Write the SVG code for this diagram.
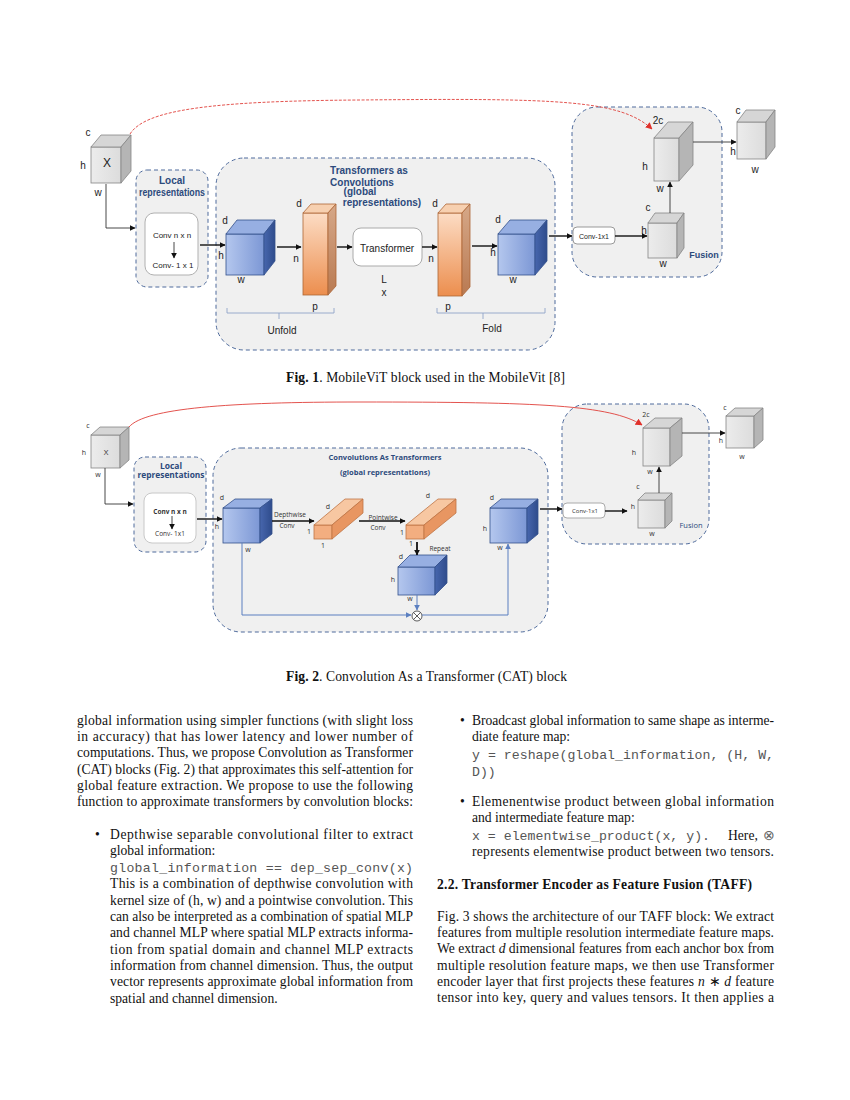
<svg xmlns="http://www.w3.org/2000/svg" width="850" height="1100" viewBox="0 0 850 1100">
<defs>
<linearGradient id="bF" x1="0" y1="0" x2="1" y2="0"><stop offset="0" stop-color="#b4c7ee"/><stop offset="1" stop-color="#7c97d5"/></linearGradient>
<linearGradient id="bR" x1="0" y1="0" x2="1" y2="0"><stop offset="0" stop-color="#4766ad"/><stop offset="1" stop-color="#2f4c8c"/></linearGradient>
<linearGradient id="oF" x1="0" y1="0" x2="0" y2="1"><stop offset="0" stop-color="#fcdcc4"/><stop offset="1" stop-color="#ec8e4e"/></linearGradient>
<linearGradient id="oR" x1="0" y1="0" x2="0" y2="1"><stop offset="0" stop-color="#d6a888"/><stop offset="1" stop-color="#b97a52"/></linearGradient>
<linearGradient id="gF" x1="0" y1="0" x2="1" y2="0"><stop offset="0" stop-color="#ececec"/><stop offset="1" stop-color="#dcdcdc"/></linearGradient>
<marker id="ak" viewBox="0 0 10 10" refX="9" refY="5" markerWidth="6" markerHeight="6" orient="auto" markerUnits="userSpaceOnUse"><path d="M0,0 L10,5 L0,10 z" fill="#111"/></marker>
<marker id="ab" viewBox="0 0 10 10" refX="9" refY="5" markerWidth="6" markerHeight="6" orient="auto" markerUnits="userSpaceOnUse"><path d="M0,0 L10,5 L0,10 z" fill="#5b7fc0"/></marker>
<marker id="ar" viewBox="0 0 10 10" refX="9" refY="5" markerWidth="7" markerHeight="7" orient="auto" markerUnits="userSpaceOnUse"><path d="M0,0 L10,5 L0,10 z" fill="#e0302a"/></marker>
<style>
.grp{fill:#f0f0f0;stroke:#4f6b9c;stroke-width:1;stroke-dasharray:4 3}
.inner{fill:#fff;stroke:#b0b0b0;stroke-width:1}
.bf{fill:url(#bF);stroke:#33508c;stroke-width:0.8}
.bt{fill:#97afe2;stroke:#33508c;stroke-width:0.8}
.br{fill:url(#bR);stroke:#33508c;stroke-width:0.8}
.of{fill:url(#oF);stroke:#ad6636;stroke-width:0.8}
.ot{fill:#f7d0b0;stroke:#ad6636;stroke-width:0.8}
.or{fill:url(#oR);stroke:#ad6636;stroke-width:0.8}
.of2{fill:#f3ae80;stroke:#bf7545;stroke-width:0.8}
.ot2{fill:#f7c7a2;stroke:#bf7545;stroke-width:0.8}
.or2{fill:#e89662;stroke:#bf7545;stroke-width:0.8}
.gf{fill:url(#gF);stroke:#858585;stroke-width:0.8}
.gt{fill:#d6d6d6;stroke:#858585;stroke-width:0.8}
.gr{fill:#b5b5b5;stroke:#858585;stroke-width:0.8}
.l1{font-family:"Liberation Sans",Arial,sans-serif;font-size:10px;fill:#222;text-anchor:middle;dominant-baseline:central}
.l2{font-family:"Open Sans","Liberation Sans",sans-serif;font-size:7px;fill:#333;text-anchor:middle;dominant-baseline:central}
.t1{font-family:"Liberation Sans",Arial,sans-serif;font-size:10px;font-weight:bold;fill:#2c4a7c;text-anchor:middle;dominant-baseline:central}
.t2{font-family:"Open Sans","Liberation Sans",sans-serif;font-size:7.5px;font-weight:bold;fill:#2c4a7c;text-anchor:middle;dominant-baseline:central}
.ln{fill:none;stroke:#111;stroke-width:1.4}
.lt{fill:none;stroke:#333;stroke-width:0.9}
.lb{fill:none;stroke:#5b7fc0;stroke-width:1}
.red{fill:none;stroke:#e0403a;stroke-width:0.9}
.brk{fill:none;stroke:#8ea3c7;stroke-width:0.9}
.tx{font-family:"Liberation Serif","Times New Roman",serif;font-size:13.6px;fill:#111}
.mono{font-family:"Liberation Mono","Courier New",monospace;font-size:13.2px;fill:#555}
.b{font-weight:bold}
</style>
</defs>
<rect width="850" height="1100" fill="#fff"/>

<!-- ================= FIGURE 1 ================= -->
<g id="f1-transformers-group">
<rect class="grp" x="216" y="158" width="339" height="192" rx="28"/>
<text class="t1" x="369" y="170">Transformers as</text>
<text class="t1" x="362" y="182">Convolutions</text>
<text class="t1" x="360" y="191">(global</text>
<text class="t1" x="382" y="202">representations)</text>
</g>
<g id="f1-local">
<rect class="grp" x="136" y="170" width="72" height="117" rx="11"/>
<text class="t1" x="172" y="180">Local</text>
<text class="t1" x="172" y="192" textLength="66" lengthAdjust="spacingAndGlyphs">representations</text>
<rect class="inner" x="145" y="213" width="53" height="62" rx="9"/>
<text class="l1" x="172" y="235" style="font-size:8px">Conv n x n</text>
<text class="l1" x="173" y="265" style="font-size:8px">Conv- 1 x 1</text>
</g>
<g id="f1-fusion">
<rect class="grp" x="572" y="107" width="150" height="170" rx="25"/>
<text class="t1" x="704" y="255" style="font-size:9px">Fusion</text>
</g>
<g id="f1-x">
<rect class="gf" x="91" y="147" width="30" height="36"/>
<polygon class="gt" points="91,147 101,135 131,135 121,147"/>
<polygon class="gr" points="121,147 131,135 131,171 121,183"/>
<text class="l1" x="107" y="163" style="font-size:12px">X</text>
<text class="l1" x="88" y="132">c</text>
<text class="l1" x="83" y="165">h</text>
<text class="l1" x="98" y="192">w</text>
</g>
<g id="f1-cube1">
<rect class="bf" x="226" y="234" width="38" height="41"/>
<polygon class="bt" points="226,234 237,220 275,220 264,234"/>
<polygon class="br" points="264,234 275,220 275,261 264,275"/>
<text class="l1" x="225" y="220">d</text>
<text class="l1" x="221" y="255">h</text>
<text class="l1" x="241" y="279">w</text>
</g>
<g id="f1-bar1">
<rect class="of" x="303" y="213" width="25" height="82"/>
<polygon class="ot" points="303,213 311,204 336,204 328,213"/>
<polygon class="or" points="328,213 336,204 336,286 328,295"/>
<text class="l1" x="299" y="203">d</text>
<text class="l1" x="296" y="258">n</text>
<text class="l1" x="315" y="306">p</text>
</g>
<g id="f1-transformer">
<rect class="inner" x="353" y="228" width="69" height="38" rx="8" style="stroke:#aaa"/>
<text class="l1" x="387" y="248">Transformer</text>
<text class="l1" x="384" y="279">L</text>
<text class="l1" x="384" y="292">x</text>
</g>
<g id="f1-bar2">
<rect class="of" x="438" y="213" width="24" height="83"/>
<polygon class="ot" points="438,213 446,204 470,204 462,213"/>
<polygon class="or" points="462,213 470,204 470,287 462,296"/>
<text class="l1" x="435" y="203">d</text>
<text class="l1" x="431" y="258">n</text>
<text class="l1" x="448" y="306">p</text>
</g>
<g id="f1-cube2">
<rect class="bf" x="498" y="234" width="37" height="41"/>
<polygon class="bt" points="498,234 510,220 547,220 535,234"/>
<polygon class="br" points="535,234 547,220 547,261 535,275"/>
<text class="l1" x="498" y="219">d</text>
<text class="l1" x="493" y="252">h</text>
<text class="l1" x="513" y="279">w</text>
</g>
<g id="f1-unfold">
<path class="brk" d="M227,308 V313 H334 V308 M279,313 V319"/>
<text class="l1" x="282" y="330">Unfold</text>
</g>
<g id="f1-fold">
<path class="brk" d="M437,308 V313 H545 V308 M483,313 V319"/>
<text class="l1" x="492" y="328">Fold</text>
</g>
<g id="f1-conv">
<rect class="inner" x="573" y="227" width="42" height="17" rx="4" style="stroke:#999"/>
<text class="l1" x="594" y="236" style="font-size:7px">Conv-1x1</text>
</g>
<g id="f1-ccube">
<rect class="gf" x="648" y="223" width="29" height="35"/>
<polygon class="gt" points="648,223 655,213 684,213 677,223"/>
<polygon class="gr" points="677,223 684,213 684,248 677,258"/>
<text class="l1" x="648" y="207">c</text>
<text class="l1" x="644" y="230">h</text>
<text class="l1" x="663" y="263">w</text>
</g>
<g id="f1-2ccube">
<rect class="gf" x="654" y="138" width="25" height="43"/>
<polygon class="gt" points="654,138 668,122 693,122 679,138"/>
<polygon class="gr" points="679,138 693,122 693,165 679,181"/>
<text class="l1" x="658" y="120">2c</text>
<text class="l1" x="645" y="166">h</text>
<text class="l1" x="660" y="188">w</text>
</g>
<g id="f1-out">
<rect class="gf" x="737" y="122" width="29" height="37"/>
<polygon class="gt" points="737,122 746,110 775,110 766,122"/>
<polygon class="gr" points="766,122 775,110 775,147 766,159"/>
<text class="l1" x="738" y="110">c</text>
<text class="l1" x="733" y="151">h</text>
<text class="l1" x="755" y="169">w</text>
</g>
<g id="f1-connectors">
<path class="red" style="stroke-dasharray:3 1.5" d="M130,134 C145,110 210,101 360,100 C560,98 620,100 652,129" marker-end="url(#ar)"/>
<path class="lt" d="M106,184 V228 H135" marker-end="url(#ak)"/>
<path class="ln" d="M200,245 H225" marker-end="url(#ak)"/>
<path class="ln" d="M277,247 H301" marker-end="url(#ak)"/>
<path class="ln" d="M337,247 H352" marker-end="url(#ak)"/>
<path class="ln" d="M422,247 H437" marker-end="url(#ak)"/>
<path class="ln" d="M472,246 H497" marker-end="url(#ak)"/>
<path class="ln" d="M549,236 H572" marker-end="url(#ak)"/>
<path class="ln" d="M615,236 H647" marker-end="url(#ak)"/>
<path class="lt" d="M174,242 V258" marker-end="url(#ak)"/>
<path class="lt" d="M670,213 V182" marker-end="url(#ak)"/>
<path class="lt" d="M693,142 H736" marker-end="url(#ak)"/>
</g>
<text class="tx" x="286" y="382" textLength="279" lengthAdjust="spacing"><tspan class="b">Fig. 1</tspan>. MobileViT block used in the MobileVit [8]</text>

<!-- ================= FIGURE 2 ================= -->
<g id="f2-cat-group">
<rect class="grp" x="213" y="448" width="335" height="184" rx="28"/>
<text class="t2" x="385" y="457">Convolutions As Transformers</text>
<text class="t2" x="385" y="472">(global representations)</text>
</g>
<g id="f2-local">
<rect class="grp" x="134" y="457" width="72" height="95" rx="11"/>
<text class="t2" x="171" y="465" style="font-size:8.5px">Local</text>
<text class="t2" x="171" y="474" style="font-size:8.5px" textLength="67" lengthAdjust="spacingAndGlyphs">representations</text>
<rect class="inner" x="144" y="493" width="52" height="50" rx="8" style="stroke:#c8c8c8"/>
<text class="l2" x="170" y="511" style="font-size:6.5px;font-weight:bold">Conv n x n</text>
<text class="l2" x="170" y="533" style="font-size:6.5px">Conv- 1x1</text>
</g>
<g id="f2-fusion">
<rect class="grp" x="562" y="404" width="147" height="140" rx="25"/>
<text class="t2" x="691" y="525" style="font-weight:normal">Fusion</text>
</g>
<g id="f2-x">
<rect class="gf" x="91" y="435" width="29" height="33"/>
<polygon class="gt" points="91,435 100,427 129,427 120,435"/>
<polygon class="gr" points="120,435 129,427 129,460 120,468"/>
<text class="l2" x="106" y="451" style="font-size:8px">X</text>
<text class="l2" x="88" y="425">c</text>
<text class="l2" x="84" y="452">h</text>
<text class="l2" x="98" y="474">w</text>
</g>
<g id="f2-cubeA">
<rect class="bf" x="223" y="508" width="37" height="35"/>
<polygon class="bt" points="223,508 235,499 272,499 260,508"/>
<polygon class="br" points="260,508 272,499 272,534 260,543"/>
<text class="l2" x="222" y="497">d</text>
<text class="l2" x="217" y="526">h</text>
<text class="l2" x="248" y="549">w</text>
</g>
<g id="f2-bar1">
<rect class="of2" x="314" y="525" width="18" height="14"/>
<polygon class="ot2" points="314,525 345,499 363,499 332,525"/>
<polygon class="or2" points="332,525 363,499 363,513 332,539"/>
<text class="l2" x="328" y="506">d</text>
<text class="l2" x="309" y="531">1</text>
<text class="l2" x="323" y="545">1</text>
</g>
<g id="f2-bar2">
<rect class="of2" x="406" y="525" width="18" height="14"/>
<polygon class="ot2" points="406,525 438,499 456,499 424,525"/>
<polygon class="or2" points="424,525 456,499 456,513 424,539"/>
<text class="l2" x="428" y="495">d</text>
<text class="l2" x="402" y="532">1</text>
<text class="l2" x="411" y="543">1</text>
</g>
<g id="f2-cubeB">
<rect class="bf" x="398" y="567" width="37" height="28"/>
<polygon class="bt" points="398,567 410,555 447,555 435,567"/>
<polygon class="br" points="435,567 447,555 447,583 435,595"/>
<text class="l2" x="401" y="556">d</text>
<text class="l2" x="393" y="579">h</text>
<text class="l2" x="410" y="598">w</text>
</g>
<g id="f2-product">
<circle cx="417" cy="616" r="5" fill="#fff" stroke="#333" stroke-width="0.8"/>
<path d="M413.5,612.5 L420.5,619.5 M420.5,612.5 L413.5,619.5" stroke="#333" stroke-width="0.8"/>
</g>
<g id="f2-cubeC">
<rect class="bf" x="490" y="508" width="37" height="35"/>
<polygon class="bt" points="490,508 501,499 538,499 527,508"/>
<polygon class="br" points="527,508 538,499 538,534 527,543"/>
<text class="l2" x="492" y="497">d</text>
<text class="l2" x="485" y="528">h</text>
<text class="l2" x="500" y="547">w</text>
</g>
<g id="f2-conv">
<rect class="inner" x="563" y="503" width="42" height="15" rx="4" style="stroke:#aaa"/>
<text class="l2" x="585" y="511" style="font-size:6px">Conv-1x1</text>
</g>
<g id="f2-ccube">
<rect class="gf" x="638" y="500" width="27" height="28"/>
<polygon class="gt" points="638,500 645,493 672,493 665,500"/>
<polygon class="gr" points="665,500 672,493 672,521 665,528"/>
<text class="l2" x="638" y="486">c</text>
<text class="l2" x="633" y="506">h</text>
<text class="l2" x="652" y="533">w</text>
</g>
<g id="f2-2ccube">
<rect class="gf" x="643" y="428" width="27" height="38"/>
<polygon class="gt" points="643,428 655,418 682,418 670,428"/>
<polygon class="gr" points="670,428 682,418 682,456 670,466"/>
<text class="l2" x="646" y="414">2c</text>
<text class="l2" x="634" y="452">h</text>
<text class="l2" x="650" y="471">w</text>
</g>
<g id="f2-out">
<rect class="gf" x="726" y="416" width="28" height="32"/>
<polygon class="gt" points="726,416 735,408 763,408 754,416"/>
<polygon class="gr" points="754,416 763,408 763,440 754,448"/>
<text class="l2" x="725" y="407">c</text>
<text class="l2" x="721" y="440">h</text>
<text class="l2" x="742" y="456">w</text>
</g>
<g id="f2-connectors">
<path class="red" d="M129,427 C145,408 230,402 360,402 C540,402 610,405 642,425" marker-end="url(#ar)"/>
<path class="lt" d="M105,468 V504 H133" marker-end="url(#ak)"/>
<path class="ln" d="M197,519 H222" marker-end="url(#ak)"/>
<path class="ln" d="M272,521 H314" marker-end="url(#ak)"/>
<text class="l2" x="290" y="514" style="font-size:6.5px">Depthwise</text>
<text class="l2" x="287" y="525" style="font-size:6.5px">Conv</text>
<path class="ln" d="M359,521 H405" marker-end="url(#ak)"/>
<text class="l2" x="383" y="517" style="font-size:6.5px">Pointwise</text>
<text class="l2" x="378" y="527" style="font-size:6.5px">Conv</text>
<path class="ln" d="M417,542 V555" style="stroke-width:1.8" marker-end="url(#ak)"/>
<text class="l2" x="440" y="548" style="font-size:6.5px">Repeat</text>
<path class="lt" d="M172,516 V529" marker-end="url(#ak)"/>
<path class="lb" d="M417,595 V610" marker-end="url(#ab)"/>
<path class="lb" d="M242,543 V615 H411" marker-end="url(#ab)"/>
<path class="lb" d="M422,615 H508 V544" marker-end="url(#ab)"/>
<path class="ln" d="M540,509 H562" marker-end="url(#ak)"/>
<path class="ln" d="M605,511 H627" marker-end="url(#ak)"/>
<path class="lt" d="M659,493 V467" marker-end="url(#ak)"/>
<path class="lt" d="M682,433 H725" marker-end="url(#ak)"/>
</g>
<text class="tx" x="286" y="681" textLength="281" lengthAdjust="spacing"><tspan class="b">Fig. 2</tspan>. Convolution As a Transformer (CAT) block</text>

<!-- ================= BODY TEXT ================= -->
<g id="left-column">
<text class="tx" x="77" y="724.5" textLength="336" lengthAdjust="spacing">global information using simpler functions (with slight loss</text>
<text class="tx" x="77" y="741" textLength="336" lengthAdjust="spacing">in accuracy) that has lower latency and lower number of</text>
<text class="tx" x="77" y="757.3" textLength="336" lengthAdjust="spacing">computations. Thus, we propose Convolution as Transformer</text>
<text class="tx" x="77" y="773.6" textLength="336" lengthAdjust="spacing">(CAT) blocks (Fig. 2) that approximates this self-attention for</text>
<text class="tx" x="77" y="790" textLength="336" lengthAdjust="spacing">global feature extraction.  We propose to use the following</text>
<text class="tx" x="77" y="806.3" textLength="336" lengthAdjust="spacing">function to approximate transformers by convolution blocks:</text>
<text class="tx" x="95" y="839">•</text>
<text class="tx" x="110" y="839" textLength="303" lengthAdjust="spacing">Depthwise separable convolutional filter to extract</text>
<text class="tx" x="110" y="855.3">global information:</text>
<text class="mono" x="110" y="871.8" textLength="303" lengthAdjust="spacing">global_information == dep_sep_conv(x)</text>
<text class="tx" x="110" y="888.3" textLength="303" lengthAdjust="spacing">This is a combination of depthwise convolution with</text>
<text class="tx" x="110" y="904.6" textLength="303" lengthAdjust="spacing">kernel size of (h, w) and a pointwise convolution. This</text>
<text class="tx" x="110" y="921" textLength="303" lengthAdjust="spacing">can also be interpreted as a combination of spatial MLP</text>
<text class="tx" x="110" y="937.3" textLength="303" lengthAdjust="spacing">and channel MLP where spatial MLP extracts informa-</text>
<text class="tx" x="110" y="953.6" textLength="303" lengthAdjust="spacing">tion from spatial domain and channel MLP extracts</text>
<text class="tx" x="110" y="970" textLength="303" lengthAdjust="spacing">information from channel dimension. Thus, the output</text>
<text class="tx" x="110" y="986.3" textLength="303" lengthAdjust="spacing">vector represents approximate global information from</text>
<text class="tx" x="110" y="1002.6">spatial and channel dimension.</text>
</g>
<g id="right-column">
<text class="tx" x="460" y="724.5">•</text>
<text class="tx" x="472" y="724.5" textLength="302" lengthAdjust="spacing">Broadcast global information to same shape as interme-</text>
<text class="tx" x="472" y="741">diate feature map:</text>
<text class="mono" x="472" y="758.5" textLength="302" lengthAdjust="spacing">y = reshape(global_information, (H, W,</text>
<text class="mono" x="472" y="775.5">D))</text>
<text class="tx" x="460" y="806">•</text>
<text class="tx" x="472" y="806" textLength="302" lengthAdjust="spacing">Elemenentwise product between global information</text>
<text class="tx" x="472" y="822.3">and intermediate feature map:</text>
<text class="mono" x="472" y="840" textLength="238" lengthAdjust="spacing">x = elementwise_product(x, y).</text>
<text class="tx" x="728" y="840">Here,</text>
<text class="tx" x="763" y="840" style="fill:#666">⊗</text>
<text class="tx" x="472" y="856.3" textLength="302" lengthAdjust="spacing">represents elementwise product between two tensors.</text>
<text class="tx b" x="437" y="889" textLength="315" lengthAdjust="spacing">2.2.  Transformer Encoder as Feature Fusion (TAFF)</text>
<text class="tx" x="437" y="920.7" textLength="337" lengthAdjust="spacing">Fig. 3 shows the architecture of our TAFF block: We extract</text>
<text class="tx" x="437" y="937" textLength="337" lengthAdjust="spacing">features from multiple resolution intermediate feature maps.</text>
<text class="tx" x="437" y="953.3" textLength="337" lengthAdjust="spacing">We extract <tspan font-style="italic">d</tspan> dimensional features from each anchor box from</text>
<text class="tx" x="437" y="969.7" textLength="337" lengthAdjust="spacing">multiple resolution feature maps, we then use Transformer</text>
<text class="tx" x="437" y="986" textLength="337" lengthAdjust="spacing">encoder layer that first projects these features <tspan font-style="italic">n</tspan> ∗ <tspan font-style="italic">d</tspan> feature</text>
<text class="tx" x="437" y="1002.3" textLength="337" lengthAdjust="spacing">tensor into key, query and values tensors.  It then applies a</text>
</g>
</svg>
